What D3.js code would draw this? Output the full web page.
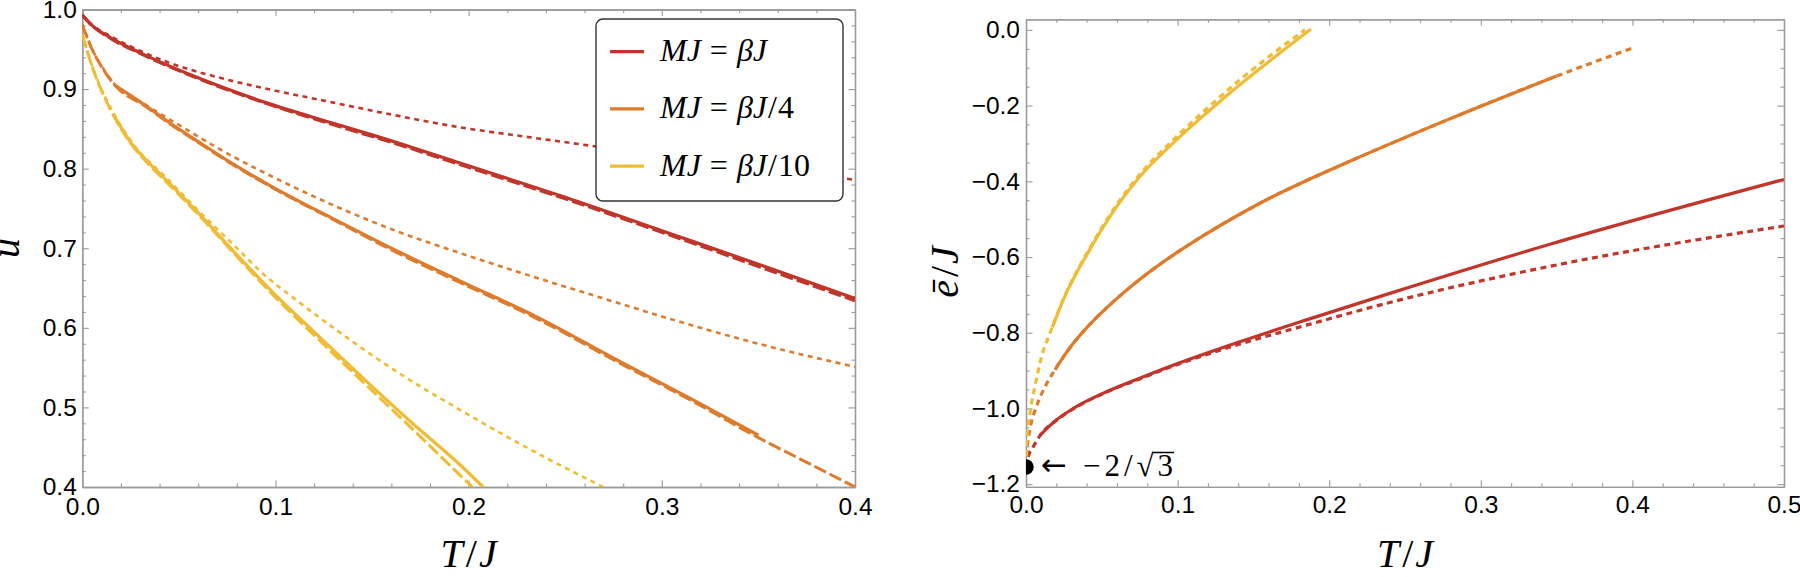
<!DOCTYPE html>
<html><head><meta charset="utf-8">
<script src="https://cdn.jsdelivr.net/npm/d3@7"></script>
<style>body{margin:0;background:#fff} svg{display:block}</style>
</head><body><svg id="c" width="1800" height="577"></svg>
<script>
// ---------- data ----------
const seriesColors = ["#C1352B", "#DE7B2D", "#F0BC36"];
const legendRHS = ["βJ", "βJ/4", "βJ/10"];

const leftXTicks = [0, 0.1, 0.2, 0.3, 0.4];
const leftYTicks = [0.4, 0.5, 0.6, 0.7, 0.8, 0.9, 1.0];
const rightXTicks = [0, 0.1, 0.2, 0.3, 0.4, 0.5];
const rightYTicks = [-1.2, -1.0, -0.8, -0.6, -0.4, -0.2, 0.0];

// left panel: u vs T/J
const uRedSolid = [[0,0.993],[0.005,0.980],[0.015,0.964],[0.0323,0.943],[0.058,0.916],[0.095,0.883],[0.13,0.857],[0.164,0.832],[0.1955,0.807],[0.25,0.764],[0.3,0.722],[0.35,0.680],[0.4,0.637]];
const uRedDashed = [[0,0.993],[0.005,0.980],[0.015,0.963],[0.0323,0.942],[0.058,0.915],[0.095,0.882],[0.13,0.855],[0.164,0.830],[0.1955,0.805],[0.25,0.762],[0.3,0.720],[0.35,0.677],[0.4,0.634]];
const uRedDotted = [[0,0.993],[0.005,0.981],[0.015,0.966],[0.03,0.948],[0.045,0.933],[0.07,0.915],[0.1,0.898],[0.13,0.883],[0.16,0.868],[0.1955,0.852],[0.23,0.840],[0.2627,0.829],[0.3,0.816],[0.35,0.801],[0.4,0.786]];

const uOrangeSolid = [[0.0168,0.905],[0.0323,0.880],[0.045,0.858],[0.06,0.834],[0.078,0.806],[0.1,0.775],[0.13,0.737],[0.16,0.700],[0.1955,0.659],[0.235,0.614],[0.278,0.558],[0.315,0.511],[0.35,0.465]];
const uOrangeDashed = [[0,0.981],[0.0047,0.952],[0.0116,0.922],[0.0168,0.905],[0.0323,0.879],[0.045,0.857],[0.06,0.833],[0.078,0.805],[0.1,0.774],[0.13,0.736],[0.16,0.698],[0.1955,0.657],[0.235,0.612],[0.278,0.556],[0.315,0.509],[0.35,0.462],[0.375,0.431],[0.4,0.400]];
const uOrangeDotted = [[0,0.981],[0.0047,0.952],[0.0116,0.923],[0.0168,0.906],[0.0323,0.881],[0.05,0.855],[0.07,0.826],[0.1,0.788],[0.13,0.754],[0.16,0.724],[0.1955,0.694],[0.235,0.663],[0.271,0.636],[0.306,0.610],[0.35,0.580],[0.4,0.551]];

const uYellowSolid = [[0.016,0.868],[0.026,0.830],[0.035,0.806],[0.0437,0.785],[0.061,0.742],[0.078,0.697],[0.0989,0.644],[0.1195,0.596],[0.147,0.533],[0.17,0.482],[0.1955,0.428],[0.2075,0.400]];
const uYellowDashed = [[0,0.969],[0.0047,0.931],[0.0116,0.889],[0.0168,0.864],[0.026,0.829],[0.035,0.804],[0.0437,0.783],[0.061,0.740],[0.078,0.695],[0.0989,0.641],[0.1195,0.592],[0.147,0.528],[0.17,0.475],[0.1955,0.415],[0.202,0.400]];
const uYellowDotted = [[0,0.969],[0.0047,0.932],[0.0116,0.891],[0.0168,0.867],[0.026,0.832],[0.0437,0.788],[0.061,0.745],[0.078,0.705],[0.0954,0.664],[0.1075,0.641],[0.13,0.600],[0.164,0.543],[0.1955,0.497],[0.2282,0.452],[0.2696,0.400]];

// right panel: e/J vs T/J
const eRedSolid = [[0.0092,-1.071],[0.0202,-1.030],[0.0312,-1.000],[0.053,-0.956],[0.075,-0.920],[0.097,-0.886],[0.141,-0.824],[0.185,-0.766],[0.24,-0.696],[0.345,-0.567],[0.5,-0.395]];
const eRedDotted = [[0,-1.155],[0.0015,-1.127],[0.0048,-1.101],[0.0092,-1.072],[0.0202,-1.031],[0.0312,-1.001],[0.053,-0.957],[0.075,-0.922],[0.097,-0.888],[0.141,-0.830],[0.185,-0.780],[0.24,-0.720],[0.345,-0.625],[0.5,-0.518]];
const eOrangeSolid = [[0.0191,-0.898],[0.025,-0.862],[0.0312,-0.828],[0.04,-0.787],[0.053,-0.735],[0.065,-0.692],[0.0796,-0.645],[0.097,-0.595],[0.12,-0.536],[0.141,-0.487],[0.16,-0.446],[0.185,-0.398],[0.2136,-0.347],[0.2795,-0.235],[0.35,-0.122]];
const eOrangeDotted = [[0,-1.155],[0.0009,-1.100],[0.0026,-1.055],[0.007,-0.994],[0.0136,-0.935],[0.0191,-0.898],[0.025,-0.862],[0.0312,-0.828],[0.04,-0.787],[0.053,-0.735],[0.065,-0.692],[0.0796,-0.645],[0.097,-0.595],[0.12,-0.536],[0.141,-0.487],[0.16,-0.446],[0.185,-0.398],[0.2136,-0.347],[0.2795,-0.235],[0.35,-0.122],[0.4,-0.048]];
const eYellowSolid = [[0.0174,-0.786],[0.0246,-0.713],[0.042,-0.581],[0.0598,-0.467],[0.075,-0.388],[0.097,-0.299],[0.119,-0.220],[0.141,-0.145],[0.163,-0.075],[0.188,0.002]];
const eYellowDotted = [[0,-1.155],[0.0004,-1.092],[0.0026,-1.013],[0.0059,-0.942],[0.0103,-0.863],[0.0158,-0.801],[0.0246,-0.711],[0.042,-0.577],[0.0598,-0.462],[0.075,-0.382],[0.097,-0.291],[0.119,-0.209],[0.141,-0.132],[0.163,-0.062],[0.184,0.000]];

const groundState = [[0, -2 / Math.sqrt(3)]];

// ---------- drawing ----------
const svg = d3.select("#c");
const FRAME = "#9a9a9a";
const TICKFONT = "'Liberation Sans', Arial, sans-serif";
const MATHFONT = "'Liberation Serif', 'Times New Roman', serif";
const TICKSIZE = 24.5;

function fmt(v) {
  const s = Math.abs(v).toFixed(1);
  return (v < -1e-9 ? "\u2212" : "") + s;
}

function mathText(sel, str, firstDx, slashPad) {
  const chars = [...str];
  chars.forEach((ch, i) => {
    const italic = /[A-Za-zβē]/.test(ch);
    const ts = sel.append("tspan").attr("font-style", italic ? "italic" : "normal").text(ch);
    let dx = 0;
    if (i === 0 && firstDx) dx += firstDx;
    if (slashPad && ch === "/") dx += slashPad[0];
    if (slashPad && i > 0 && chars[i - 1] === "/") dx += slashPad[1];
    if (dx) ts.attr("dx", dx);
  });
}

function panel(cfg) {
  const x = d3.scaleLinear().domain(cfg.xDomain).range(cfg.xRange);
  const y = d3.scaleLinear().domain(cfg.yDomain).range(cfg.yRange);
  const [x0, x1] = cfg.xRange, [yb, yt] = cfg.yRange;
  const g = svg.append("g");

  svg.append("clipPath").attr("id", cfg.id).append("rect")
    .attr("x", x0).attr("y", yt).attr("width", x1 - x0).attr("height", yb - yt);

  const styleAxis = (a, labels) => {
    a.attr("font-size", TICKSIZE).attr("font-family", TICKFONT);
    a.selectAll(".domain").attr("stroke", FRAME).attr("stroke-width", 1.3);
    a.selectAll(".tick line").attr("stroke", FRAME).attr("stroke-width", 1.1);
    a.selectAll("text").attr("font-family", TICKFONT).attr("font-size", TICKSIZE).attr("fill", "#000");
    if (!labels) a.selectAll("text").remove();
  };
  const minorX = cfg.xMinor.filter(v => !cfg.xTicks.some(t => Math.abs(t - v) < 1e-9));
  const minorY = cfg.yMinor.filter(v => !cfg.yTicks.some(t => Math.abs(t - v) < 1e-9));

  g.append("g").attr("transform", `translate(0,${yb})`).call(d3.axisBottom(x).tickValues(minorX).tickSize(-3.5).tickSizeOuter(0).tickFormat("")).call(a => styleAxis(a, false));
  g.append("g").attr("transform", `translate(0,${yt})`).call(d3.axisTop(x).tickValues(minorX).tickSize(-3.5).tickSizeOuter(0).tickFormat("")).call(a => styleAxis(a, false));
  g.append("g").attr("transform", `translate(${x0},0)`).call(d3.axisLeft(y).tickValues(minorY).tickSize(-3.5).tickSizeOuter(0).tickFormat("")).call(a => styleAxis(a, false));
  g.append("g").attr("transform", `translate(${x1},0)`).call(d3.axisRight(y).tickValues(minorY).tickSize(-3.5).tickSizeOuter(0).tickFormat("")).call(a => styleAxis(a, false));
  g.append("g").attr("transform", `translate(0,${yb})`).call(d3.axisBottom(x).tickValues(cfg.xTicks).tickSize(-6.5).tickSizeOuter(0).tickPadding(cfg.xPad).tickFormat(fmt)).call(a => styleAxis(a, true));
  g.append("g").attr("transform", `translate(0,${yt})`).call(d3.axisTop(x).tickValues(cfg.xTicks).tickSize(-6.5).tickSizeOuter(0).tickFormat("")).call(a => styleAxis(a, false));
  g.append("g").attr("transform", `translate(${x0},0)`).call(d3.axisLeft(y).tickValues(cfg.yTicks).tickSize(-6.5).tickSizeOuter(0).tickPadding(cfg.yPad).tickFormat(fmt)).call(a => styleAxis(a, true));
  g.append("g").attr("transform", `translate(${x1},0)`).call(d3.axisRight(y).tickValues(cfg.yTicks).tickSize(-6.5).tickSizeOuter(0).tickFormat("")).call(a => styleAxis(a, false));

  const line = d3.line().x(d => x(d[0])).y(d => y(d[1])).curve(d3.curveMonotoneX);
  const plot = g.append("g").attr("clip-path", `url(#${cfg.id})`);
  cfg.series.forEach(s => {
    plot.append("path").datum(s.data).attr("d", line)
      .attr("fill", "none").attr("stroke", seriesColors[s.c])
      .attr("stroke-width", s.w).attr("stroke-dasharray", s.dash || null)
      .attr("stroke-linecap", "butt").attr("stroke-linejoin", "round");
  });
  return { x, y, g, plot };
}

// left panel
const L = panel({
  id: "clipL",
  xDomain: [0, 0.4], xRange: [82.3, 855],
  yDomain: [0.4, 1.0], yRange: [487, 9.5],
  xTicks: leftXTicks, yTicks: leftYTicks,
  xMinor: d3.range(0, 0.4001, 0.02), yMinor: d3.range(0.4, 1.0001, 0.02),
  xPad: 10.5, yPad: 5.5,
  series: [
    { data: uRedSolid, c: 0, w: 3.2 },
    { data: uRedDashed, c: 0, w: 3, dash: "13,4" },
    { data: uRedDotted, c: 0, w: 2.6, dash: "5,4.5" },
    { data: uOrangeSolid, c: 1, w: 3.2 },
    { data: uOrangeDashed, c: 1, w: 3, dash: "13,4" },
    { data: uOrangeDotted, c: 1, w: 2.6, dash: "5,4.5" },
    { data: uYellowSolid, c: 2, w: 3.2 },
    { data: uYellowDashed, c: 2, w: 3, dash: "13,4" },
    { data: uYellowDotted, c: 2, w: 2.6, dash: "5,4.5" }
  ]
});

// right panel
const R = panel({
  id: "clipR",
  xDomain: [0, 0.5], xRange: [1026, 1784],
  yDomain: [-1.207, 0.028], yRange: [486.8, 19.3],
  xTicks: rightXTicks, yTicks: rightYTicks,
  xMinor: d3.range(0, 0.5001, 0.02), yMinor: d3.range(-1.2, 0.0001, 0.05),
  xPad: 9, yPad: 6,
  series: [
    { data: eRedSolid, c: 0, w: 3.2 },
    { data: eRedDotted, c: 0, w: 3.2, dash: "6,4.5" },
    { data: eOrangeSolid, c: 1, w: 3.2 },
    { data: eOrangeDotted, c: 1, w: 3.2, dash: "6,4.5" },
    { data: eYellowSolid, c: 2, w: 3.2 },
    { data: eYellowDotted, c: 2, w: 3.2, dash: "6,4.5" }
  ]
});

// ground-state marker
R.plot.selectAll("circle.gs").data(groundState).join("circle")
  .attr("cx", d => R.x(d[0])).attr("cy", d => R.y(d[1])).attr("r", 7.7).attr("fill", "#000");

// annotation
const gsY = R.y(groundState[0][1]);
svg.append("text").attr("x", R.x(0) + 15).attr("y", gsY + 8)
  .attr("font-family", "'DejaVu Sans', sans-serif").attr("font-size", 30)
  .attr("textLength", 26).attr("lengthAdjust", "spacingAndGlyphs").text("\u2190");
const ann = svg.append("text").attr("x", R.x(0) + 57).attr("y", gsY + 9)
  .attr("font-family", MATHFONT).attr("font-size", 31)
  .attr("textLength", 90).attr("lengthAdjust", "spacing");
ann.append("tspan").text("\u22122/\u221A");
ann.append("tspan").text("3");
{
  const n = ann.text().length;
  const ext = ann.node().getExtentOfChar(n - 1);
  const extR = ann.node().getExtentOfChar(n - 2);
  svg.append("line").attr("x1", extR.x + extR.width - 1.5).attr("x2", ext.x + ext.width + 1)
    .attr("y1", gsY - 14.5).attr("y2", gsY - 14.5).attr("stroke", "#000").attr("stroke-width", 1.5);
}

// legend
const leg = svg.append("g");
leg.append("rect").attr("x", 596).attr("y", 19).attr("width", 247).attr("height", 182)
  .attr("rx", 7).attr("fill", "#fff").attr("stroke", "#333").attr("stroke-width", 1.4);
legendRHS.forEach((rhs, i) => {
  const cy = 51.7 + i * 57.2;
  leg.append("line").attr("x1", 610).attr("x2", 644).attr("y1", cy).attr("y2", cy)
    .attr("stroke", seriesColors[i]).attr("stroke-width", 3.2);
  const t = leg.append("text").attr("x", 660).attr("y", cy + 9.5)
    .attr("font-family", MATHFONT).attr("font-size", 32);
  mathText(t, "MJ");
  t.append("tspan").attr("dx", 9).text("=");
  mathText(t, rhs, 9, [1, 1]);
});

// axis labels
function axisLabel(str, x, y, rot, size) {
  const t = svg.append("text").attr("font-family", MATHFONT).attr("font-size", size)
    .attr("text-anchor", "middle")
    .attr("transform", `translate(${x},${y}) rotate(${rot})`);
  mathText(t, str, 0, [3, 2]);
  return t;
}
axisLabel("T/J", (L.x.range()[0] + L.x.range()[1]) / 2, 567, 0, 40);
axisLabel("T/J", (R.x.range()[0] + R.x.range()[1]) / 2, 567, 0, 40);
axisLabel("u", 18.5, 248, -90, 40);
axisLabel("ē/J", 958, 272, -90, 40);
</script>
</body></html>
